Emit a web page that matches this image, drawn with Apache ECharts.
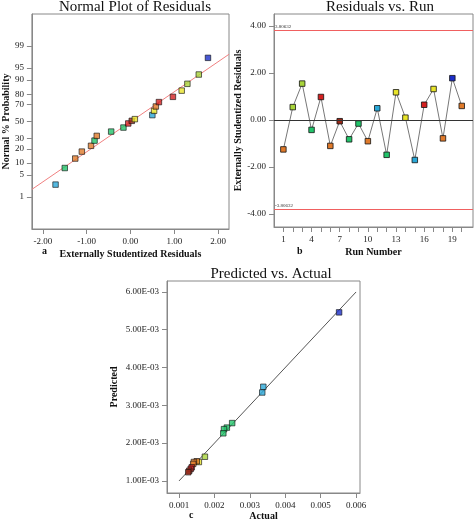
<!DOCTYPE html>
<html>
<head>
<meta charset="utf-8">
<script src="https://cdn.jsdelivr.net/npm/echarts@6/dist/echarts.min.js"></script>
<style>html,body{margin:0;padding:0;background:#fff}#chart{width:474px;height:523px}</style>
</head>
<body>
<div id="chart"></div>
<script>
// colours used by Design-Expert style markers
var C = {blue:'#1c2ec8', cyan:'#2aa8d8', green:'#22c46a', ygreen:'#a8d43a', yellow:'#e8e42a',
	orange:'#e07a2a', red:'#d42020', dred:'#9a2a1a'};

// normal plot of residuals
var npResid = [-1.71,-1.50,-1.26,-1.11,-0.90,-0.82,-0.77,-0.44,-0.16,-0.05,0.03,0.10,0.50,0.54,0.58,0.65,0.97,1.17,1.30,1.56,1.77];
var npProb = [2.6,7.6,12.7,17.7,22.7,27.8,32.9,37.8,42.6,47.6,50.8,52.9,57.8,62.9,67.8,72.5,77.6,82.9,87.7,92.6,97.5];
var npColor = ['cyan','green','orange','orange','orange','green','orange','green','green','red','dred','yellow','cyan','yellow','orange','red','red','yellow','ygreen','ygreen','blue'];
var npTicks = [1,5,10,20,30,50,70,80,90,95,99];
var npLine = [[-2.25,-2.09],[2.25,2.07]];

// residuals vs run
var runs = [1,2,3,4,5,6,7,8,9,10,11,12,13,14,15,16,17,18,19,20];
var runResid = [-1.25,0.55,1.55,-0.42,0.98,-1.10,-0.05,-0.82,-0.15,-0.90,0.50,-1.48,1.18,0.10,-1.70,0.65,1.32,-0.78,1.78,0.60];
var runColor = ['orange','ygreen','ygreen','green','red','orange','dred','green','green','orange','cyan','green','yellow','yellow','cyan','red','yellow','orange','blue','orange'];
var limit = 3.80632;

// predicted vs actual
var actual = [0.00552,0.00338,0.00335,0.00250,0.00235,0.00227,0.00225,0.00173,0.00156,0.00150,0.00142,0.00140,0.00136,0.00133,0.00129,0.00126];
var predicted = [0.00546,0.00349,0.00334,0.00253,0.00241,0.00237,0.00226,0.00164,0.00150,0.00152,0.00150,0.00145,0.00136,0.00132,0.00127,0.00123];
var paColor = ['blue','cyan','cyan','green','green','green','green','ygreen','yellow','orange','orange','orange','red','red','dred','dred'];

// inverse normal cdf (Acklam)
function probit(p){
	var a=[-39.69683028665376,220.9460984245205,-275.9285104469687,138.3577518672690,-30.66479806614716,2.506628277459239];
	var b=[-54.47609879822406,161.5858368580409,-155.6989798598866,66.80131188771972,-13.28068155288572];
	var c=[-0.007784894002430293,-0.3223964580411365,-2.400758277161838,-2.549732539343734,4.374664141464968,2.938163982698783];
	var d=[0.007784695709041462,0.3224671290700398,2.445134137142996,3.754408661907416];
	var q,r;
	if(p<0.02425){q=Math.sqrt(-2*Math.log(p));return (((((c[0]*q+c[1])*q+c[2])*q+c[3])*q+c[4])*q+c[5])/((((d[0]*q+d[1])*q+d[2])*q+d[3])*q+1);}
	if(p>1-0.02425){q=Math.sqrt(-2*Math.log(1-p));return -(((((c[0]*q+c[1])*q+c[2])*q+c[3])*q+c[4])*q+c[5])/((((d[0]*q+d[1])*q+d[2])*q+d[3])*q+1);}
	q=p-0.5;r=q*q;
	return (((((a[0]*r+a[1])*r+a[2])*r+a[3])*r+a[4])*r+a[5])*q/(((((b[0]*r+b[1])*r+b[2])*r+b[3])*r+b[4])*r+1);
}

var font = 'Liberation Serif';
var tickLab = {fontFamily:font, fontSize:9, color:'#222'};
var nameSty = {fontFamily:font, fontSize:10, fontWeight:'bold', color:'#111'};
var axLine = {show:true, onZero:false, lineStyle:{color:'#888'}};
var markSty = function(list){ return function(p){ return C[list[p.dataIndex]]; }; };
var itemSty = function(list){ return {color:markSty(list), borderColor:'#111', borderWidth:0.8}; };

var chart = echarts.init(document.getElementById('chart'));
chart.setOption({
	animation:false,
	textStyle:{fontFamily:font},
	title:[
		{text:'Normal Plot of Residuals', left:130, top:-5, textAlign:'center', textStyle:{fontFamily:font,fontSize:15,fontWeight:'normal',color:'#111'}},
		{text:'Residuals vs. Run', left:375, top:-5, textAlign:'center', textStyle:{fontFamily:font,fontSize:15,fontWeight:'normal',color:'#111'}},
		{text:'Predicted vs. Actual', left:266, top:262, textAlign:'center', textStyle:{fontFamily:font,fontSize:15,fontWeight:'normal',color:'#111'}}
	],
	graphic:[
		{type:'text', left:42, top:246, style:{text:'a', font:'bold 10px "Liberation Serif"', fill:'#111'}},
		{type:'text', left:297, top:246, style:{text:'b', font:'bold 10px "Liberation Serif"', fill:'#111'}},
		{type:'text', left:189, top:510, style:{text:'c', font:'bold 10px "Liberation Serif"', fill:'#111'}}
	],
	grid:[
		{left:30, top:14, width:199, height:215, show:true, borderColor:'#888', borderWidth:1},
		{left:274, top:14, width:199, height:213, show:true, borderColor:'#888', borderWidth:1},
		{left:167, top:281, width:193, height:212, show:true, borderColor:'#888', borderWidth:1}
	],
	xAxis:[
		{gridIndex:0, type:'value', min:-2.25, max:2.25, interval:1, splitLine:{show:false}, axisLine:axLine,
			axisTick:{show:true, customValues:[-2,-1,0,1,2]}, axisLabel:Object.assign({customValues:[-2,-1,0,1,2], formatter:function(v){return v.toFixed(2);}}, tickLab),
			name:'Externally Studentized Residuals', nameLocation:'middle', nameGap:20, nameTextStyle:nameSty},
		{gridIndex:1, type:'value', min:0, max:21.2, interval:1, splitLine:{show:false}, axisLine:axLine,
			axisTick:{show:true, customValues:runs}, axisLabel:Object.assign({customValues:[1,4,7,10,13,16,19]}, tickLab),
			name:'Run Number', nameLocation:'middle', nameGap:20, nameTextStyle:nameSty},
		{gridIndex:2, type:'value', min:0.00066, max:0.00611, splitLine:{show:false}, axisLine:axLine,
			axisTick:{show:true, customValues:[0.001,0.002,0.003,0.004,0.005,0.006]},
			axisLabel:Object.assign({customValues:[0.001,0.002,0.003,0.004,0.005,0.006], formatter:function(v){return v.toFixed(3);}}, tickLab),
			name:'Actual', nameLocation:'middle', nameGap:18, nameTextStyle:nameSty}
	],
	yAxis:[
		{gridIndex:0, type:'value', min:-3.31, max:3.31, splitLine:{show:false}, axisLine:axLine,
			axisTick:{show:true, customValues:npTicks.map(function(t){return probit(t/100);})},
			axisLabel:Object.assign({customValues:npTicks.map(function(t){return probit(t/100);}),
				formatter:function(v){var best=npTicks[0];npTicks.forEach(function(t){if(Math.abs(probit(t/100)-v)<Math.abs(probit(best/100)-v))best=t;});return best;}}, tickLab),
			name:'Normal % Probability', nameLocation:'middle', nameGap:17, nameTextStyle:nameSty},
		{gridIndex:1, type:'value', min:-4.55, max:4.51, splitLine:{show:false}, axisLine:axLine,
			axisTick:{show:true, customValues:[-4,-2,0,2,4]},
			axisLabel:Object.assign({customValues:[-4,-2,0,2,4], formatter:function(v){return v.toFixed(2);}}, tickLab),
			name:'Externally Studentized Residuals', nameLocation:'middle', nameGap:30, nameTextStyle:nameSty},
		{gridIndex:2, type:'value', min:0.00068, max:0.00629, splitLine:{show:false}, axisLine:axLine,
			axisTick:{show:true, customValues:[0.001,0.002,0.003,0.004,0.005,0.006]},
			axisLabel:Object.assign({customValues:[0.001,0.002,0.003,0.004,0.005,0.006], formatter:function(v){return (v*1000).toFixed(2)+'E-03';}}, tickLab),
			name:'Predicted', nameLocation:'middle', nameGap:48, nameTextStyle:nameSty}
	],
	series:[
		{type:'line', xAxisIndex:0, yAxisIndex:0, data:npLine, symbol:'none', lineStyle:{color:'#f08080', width:1}, z:1},
		{type:'scatter', xAxisIndex:0, yAxisIndex:0, symbol:'rect', symbolSize:5.5,
			data:npResid.map(function(r,i){return [r, probit(npProb[i]/100)];}), itemStyle:itemSty(npColor)},
		{type:'line', xAxisIndex:1, yAxisIndex:1, symbol:'rect', symbolSize:5.5,
			data:runs.map(function(r,i){return [r, runResid[i]];}),
			lineStyle:{color:'#777', width:1}, itemStyle:itemSty(runColor),
			markLine:{silent:true, symbol:'none',
				data:[
					{yAxis:limit, lineStyle:{color:'#f06060', width:1.2, type:'solid'}, label:{show:true, position:'insideStartTop', formatter:'3.80632', fontSize:5, color:'#333', distance:1}},
					{yAxis:-limit, lineStyle:{color:'#f06060', width:1.2, type:'solid'}, label:{show:true, position:'insideStartTop', formatter:'-3.80632', fontSize:5, color:'#333', distance:1}},
					{yAxis:0, lineStyle:{color:'#333', width:1, type:'solid'}, label:{show:false}}
				]}},
		{type:'line', xAxisIndex:2, yAxisIndex:2, data:[[0.001,0.001],[0.006,0.006]], symbol:'none', lineStyle:{color:'#555', width:1}, z:1},
		{type:'scatter', xAxisIndex:2, yAxisIndex:2, symbol:'rect', symbolSize:5.5,
			data:actual.map(function(a,i){return [a, predicted[i]];}), itemStyle:itemSty(paColor)}
	]
});
</script>
</body>
</html>
